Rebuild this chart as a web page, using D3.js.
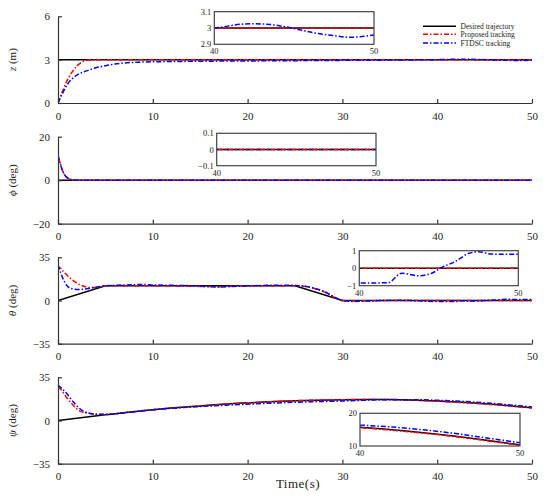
<!DOCTYPE html>
<html lang="en">
<head>
<meta charset="UTF-8">
<title>Tracking results</title>
<script src="https://cdnjs.cloudflare.com/ajax/libs/d3/7.8.5/d3.min.js"></script>
<style>
    body { margin: 0; background: #fff; }
    svg text { font-family: "Liberation Serif", "DejaVu Serif", serif; fill: #222; }
</style>
</head>
<body>
<div id="chart"></div>
<script>
// ---- values: [time (s), value] ----
const zDesired  = [[0, 3], [50, 3]];
const zProposed = [[0, 0], [0.5, 0.85], [1, 1.6], [1.5, 2.15], [2, 2.56], [2.5, 2.82], [3, 2.95], [3.5, 3], [5, 3], [50, 3]];
const zFtdsc    = [[0, 0], [0.5, 0.7], [1, 1.3], [1.5, 1.68], [2, 1.93], [3, 2.22], [4, 2.44], [5, 2.58], [6, 2.7], [7, 2.77],
                   [8, 2.81], [10, 2.85], [12, 2.87], [15, 2.89], [20, 2.91], [25, 2.93], [30, 2.95], [35, 2.97], [40, 3.0],
                   [42.2, 3.026], [43.3, 3.023], [44.3, 3.01], [45.4, 2.988], [46.4, 2.967], [47.5, 2.953], [48.5, 2.943],
                   [49.1, 2.946], [50, 2.957]];

const phiDesired  = [[0, 0], [50, 0]];
const phiProposed = [[0, 10.5], [0.2, 8.4], [0.45, 4.8], [0.7, 2.5], [1, 1], [1.4, 0.2], [2, 0], [50, 0]];
const phiFtdsc    = [[0, 11.5], [0.2, 8.2], [0.45, 4.6], [0.7, 2.4], [1, 1.1], [1.4, 0.3], [2, 0], [50, 0]];

const thetaDesired  = [[0, 0], [5, 12], [25, 12], [30, 0], [50, 0]];
const thetaProposed = [[0, 25], [0.15, 26.8], [0.5, 24], [1, 20], [1.3, 18], [1.8, 15], [2.3, 12.7], [2.8, 11.3], [3.4, 10.5],
                       [4, 10.6], [4.5, 11.3], [5, 12], [10, 12], [15, 11.4], [17, 11.2], [20, 12], [25, 12], [26, 11.5],
                       [28, 7.2], [30, 0], [31, -0.5], [32, -0.3], [35, 0], [50, 0]];
const thetaFtdsc    = [[0, 29], [0.3, 22], [0.7, 15], [1, 11.5], [1.5, 9.5], [2, 9], [2.5, 9], [3, 9.5], [4, 10.8], [5, 12],
                       [6, 12.3], [8, 12.8], [9, 13], [10, 12.6], [12, 12.3], [14, 12], [16, 11.2], [17, 11], [18, 11.3],
                       [20, 11.8], [22, 12.3], [24, 12.4], [25, 12.2], [26, 11.6], [28, 7.5], [29.5, 1.5], [30, 0],
                       [31, -0.8], [32, -0.6], [34, -0.1], [36, 0.3], [38, -0.3], [40, -0.85], [41.8, -0.83],
                       [42.67, -0.29], [43.7, -0.43], [44.55, -0.29], [45.2, 0.05], [46, 0.37], [46.9, 0.85],
                       [47.5, 0.94], [48.3, 0.81], [49, 0.8], [50, 0.8]];

const psiDesired  = [[0, 0], [5, 4.6], [10, 8.8], [15, 11.8], [20, 14.3], [25, 16], [30, 16.9], [33, 17.1], [35, 17],
                     [40, 15.7], [45, 13.5], [50, 10.3]];
const psiProposed = [[0, 27], [0.2, 26], [0.9, 18.7], [1.6, 12.4], [2.3, 7.6], [3.4, 5.7], [4.4, 4.9], [5.5, 5], [7, 6.3],
                     [10, 8.8], [15, 11.8], [20, 14.3], [25, 16], [30, 16.9], [35, 17], [40, 15.6], [45, 13.4], [50, 10.2]];
const psiFtdsc    = [[0, 28.7], [0.9, 22], [1.6, 15.1], [2.5, 8.4], [3.4, 5.7], [4.4, 5], [5.5, 5.1], [7, 6.3], [10, 8.7],
                     [15, 11.3], [20, 13.2], [25, 14.8], [30, 15.8], [35, 16.9], [38, 16.8], [40, 16.4], [42, 15.8],
                     [45, 14.4], [48, 12.4], [50, 11]];

const xTicks = [0, 10, 20, 30, 40, 50];
const legendLabels = ["Desired trajectory", "Proposed tracking", "FTDSC tracking"];

// ---- layout ----
const width = 550, height = 500;
const FONT = '"Liberation Serif", "DejaVu Serif", serif';
const svg = d3.select("#chart").append("svg").attr("width", width).attr("height", height)
    .attr("font-family", FONT);

const x = d3.scaleLinear().domain([0, 50]).range([58, 532]);

const panels = [
    { sym: "z", unit: " (m)", domain: [0, 6], ticks: [0, 3, 6], y: [103, 16.3],
      data: [zDesired, zProposed, zFtdsc], curves: [d3.curveLinear, d3.curveMonotoneX, d3.curveMonotoneX],
      inset: { box: [214.3, 374, 11.7, 44.3], domain: [2.9, 3.1], ticks: [2.9, 3, 3.1], order: [0, 1, 2] } },
    { sym: "ϕ", unit: " (deg)", domain: [-20, 20], ticks: [-20, 0, 20], y: [223.7, 136.7],
      data: [phiDesired, phiProposed, phiFtdsc], curves: [d3.curveLinear, d3.curveMonotoneX, d3.curveMonotoneX],
      inset: { box: [216.7, 376, 133.3, 165.7], domain: [-0.1, 0.1], ticks: [-0.1, 0, 0.1], order: [2, 0, 1] } },
    { sym: "θ", unit: " (deg)", domain: [-35, 35], ticks: [-35, 0, 35], y: [343.7, 257.3],
      data: [thetaDesired, thetaProposed, thetaFtdsc], curves: [d3.curveLinear, d3.curveMonotoneX, d3.curveMonotoneX],
      inset: { box: [359.3, 518.3, 250.7, 285.7], domain: [-1, 1], ticks: [-1, 0, 1], order: [0, 1, 2] } },
    { sym: "ψ", unit: " (deg)", domain: [-35, 35], ticks: [-35, 0, 35], y: [463.7, 377.3],
      data: [psiDesired, psiProposed, psiFtdsc], curves: [d3.curveMonotoneX, d3.curveMonotoneX, d3.curveMonotoneX],
      inset: { box: [360, 520, 413.3, 446], domain: [10, 20], ticks: [10, 20], order: [0, 1, 2] } }
];

const styles = [
    { color: "#000", width: 1.5, dash: null },
    { color: "#f00", width: 1.5, dash: "5,2,1.5,2" },
    { color: "#00f", width: 1.5, dash: "5,2,1.5,2" }
];
const fmt = v => (v < 0 ? "\u2212" + Math.abs(v) : String(v));

function drawSeries(g, xs, ys, p, order) {
    order.forEach(i => {
        const s = styles[i];
        g.append("path")
            .datum(p.data[i])
            .attr("fill", "none")
            .attr("stroke", s.color)
            .attr("stroke-width", s.width)
            .attr("stroke-dasharray", s.dash)
            .attr("d", d3.line().x(d => xs(d[0])).y(d => ys(d[1])).curve(p.curves[i]));
    });
}

panels.forEach((p, k) => {
    const y = d3.scaleLinear().domain(p.domain).range(p.y);
    const g = svg.append("g");

    // clip to the plotting area
    const cid = "clip" + k;
    svg.append("clipPath").attr("id", cid).append("rect")
        .attr("x", 58).attr("y", p.y[1] - 2).attr("width", 474).attr("height", p.y[0] - p.y[1] + 4);
    drawSeries(g.append("g").attr("clip-path", `url(#${cid})`), x, y, p, [0, 1, 2]);

    // axes: bottom and left only, ticks pointing inward
    const ax = g.append("g").attr("transform", `translate(0,${p.y[0]})`)
        .call(d3.axisBottom(x).tickValues(xTicks).tickSizeInner(-4).tickSizeOuter(0).tickPadding(9));
    const ay = g.append("g").attr("transform", "translate(58,0)")
        .call(d3.axisLeft(y).tickValues(p.ticks).tickSizeInner(-4).tickSizeOuter(0).tickPadding(8).tickFormat(fmt));
    [ax, ay].forEach(a => {
        a.attr("font-family", FONT).attr("font-size", 11);
        a.select(".domain").attr("stroke", "#333").attr("stroke-width", 1.2);
        a.selectAll(".tick line").attr("stroke", "#333").attr("stroke-width", 1.2);
        a.selectAll(".tick text").attr("fill", "#222");
    });

    // y label
    const lbl = g.append("text")
        .attr("transform", `translate(16,${(p.y[0] + p.y[1]) / 2}) rotate(-90)`)
        .attr("text-anchor", "middle").style("font-size", "11px");
    lbl.append("tspan").style("font-style", "italic").text(p.sym);
    lbl.append("tspan").text(p.unit);

    // zoomed inset for 40-50 s
    const b = p.inset.box;
    const xi = d3.scaleLinear().domain([40, 50]).range([b[0], b[1]]);
    const yi = d3.scaleLinear().domain(p.inset.domain).range([b[3], b[2]]);
    const ig = svg.append("g");
    ig.append("rect").attr("x", b[0]).attr("y", b[2]).attr("width", b[1] - b[0]).attr("height", b[3] - b[2])
        .attr("fill", "#fff");
    const iid = "iclip" + k;
    svg.append("clipPath").attr("id", iid).append("rect")
        .attr("x", b[0]).attr("y", b[2]).attr("width", b[1] - b[0]).attr("height", b[3] - b[2]);
    drawSeries(ig.append("g").attr("clip-path", `url(#${iid})`), xi, yi, p, p.inset.order);
    ig.append("rect").attr("x", b[0]).attr("y", b[2]).attr("width", b[1] - b[0]).attr("height", b[3] - b[2])
        .attr("fill", "none").attr("stroke", "#444").attr("stroke-width", 1.2);
    ig.selectAll(".iy").data(p.inset.ticks).join("text")
        .attr("x", b[0] - 3).attr("y", d => yi(d) + 3)
        .attr("text-anchor", "end").style("font-size", "8.5px").text(fmt);
    ig.selectAll(".ix").data([40, 50]).join("text")
        .attr("x", d => xi(d)).attr("y", b[3] + 10)
        .attr("text-anchor", "middle").style("font-size", "8.5px").text(d => d);
});

// x label
svg.append("text").attr("x", 298).attr("y", 488).attr("text-anchor", "middle")
    .style("font-size", "13px").style("letter-spacing", "0.5px").text("Time(s)");

// legend
const leg = svg.append("g");
legendLabels.forEach((t, i) => {
    const yy = [26.3, 34.3, 43][i];
    leg.append("line").attr("x1", 423).attr("x2", 456).attr("y1", yy).attr("y2", yy)
        .attr("stroke", styles[i].color).attr("stroke-width", 1.5).attr("stroke-dasharray", styles[i].dash);
    leg.append("text").attr("x", 460.5).attr("y", yy + 2.5).style("font-size", "7.5px").text(t);
});
</script>
</body>
</html>
